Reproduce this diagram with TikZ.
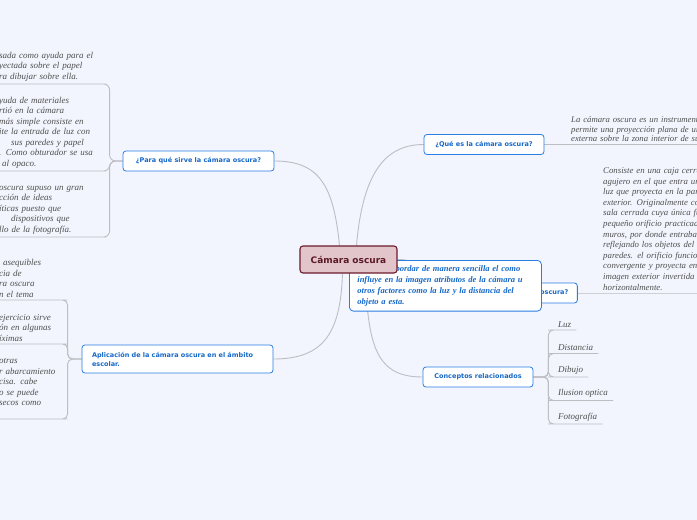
\documentclass[tikz,border=0pt]{standalone}
\usepackage{fontspec}
\newfontfamily\mapsans{DejaVu Sans}
\newfontfamily\mapserif{Liberation Serif}
\definecolor{mapbg}{HTML}{F2F5FD}
\definecolor{topicblue}{HTML}{2A7DE1}
\definecolor{topictext}{HTML}{1668C8}
\definecolor{rootfill}{HTML}{E2C5CB}
\definecolor{rootdraw}{HTML}{6B1C2C}
\definecolor{linkgray}{HTML}{BDBDC2}
\definecolor{leafgray}{HTML}{505050}
\pgfdeclarelayer{links}
\pgfsetlayers{links,main}
\tikzset{
  central/.style={draw=rootdraw, fill=rootfill, line width=1.1pt, rounded corners=3pt,
    minimum width=97pt, minimum height=27pt, text=rootdraw!85!black,
    font=\mapsans\bfseries\fontsize{9}{11}\selectfont},
  topic/.style={draw=topicblue, fill=white, line width=0.8pt, rounded corners=3pt,
    minimum height=20pt, inner xsep=9pt, text=topictext,
    font=\mapsans\bfseries\fontsize{6.5}{9}\selectfont},
  memo/.style={draw=topicblue, fill=white, line width=0.8pt, rounded corners=4pt,
    text width=176pt, align=left, inner xsep=8pt, inner ysep=5pt, anchor=north west,
    text=topictext, font=\mapserif\bfseries\itshape\fontsize{8.5}{11}\selectfont},
  leaf/.style={inner xsep=0pt, inner ysep=2.5pt, align=left, anchor=south west,
    text=leafgray, font=\mapserif\itshape\fontsize{9}{10.5}\selectfont},
  link/.style={draw=linkgray, line width=0.9pt}
}
\begin{document}
\begin{tikzpicture}[x=1pt, y=-1pt]
  \begin{pgfonlayer}{links}
    \fill[mapbg] (0,0) rectangle (697,520);
  \end{pgfonlayer}
  \useasboundingbox (0,0) rectangle (697,520);

  % topics
  \node[topic, minimum width=120pt] (what) at (484,144.5) {¿Qué es la cámara oscura?};
  \node[topic, minimum width=140pt] (how) at (505,293) {¿Cómo funciona la cámara oscura?};
  \node[topic, minimum width=110pt] (concepts) at (478,377) {Conceptos relacionados};
  \node[topic, minimum width=151pt] (why) at (198.5,161) {¿Para qué sirve la cámara oscura?};
  \node[topic, text width=171pt, align=left, minimum height=28pt, inner xsep=10pt] (school) at (177.5,359)
    {Aplicación de la cámara oscura en el ámbito\\escolar.};

  % notes on the right
  \node[leaf, text width=200pt, font=\mapserif\itshape\fontsize{8.7}{9.7}\selectfont] (whatnote) at (571,144.5)
    {La cámara oscura es un instrumento\\permite una proyección plana de una\\externa sobre la zona interior de su};
  \node[leaf, text width=200pt, font=\mapserif\itshape\fontsize{8.8}{10.6}\selectfont] (hownote) at (603,293)
    {Consiste en una caja cerrada\\agujero en el que entra un\\luz que proyecta en la pared\\exterior. Originalmente con\\sala cerrada cuya única fuente\\pequeño orificio practicado\\muros, por donde entraba\\reflejando los objetos del\\paredes. el orificio funcionaba\\convergente y proyecta en\\imagen exterior invertida\\horizontalmente.};

  % related concepts
  \node[leaf, inner xsep=5pt] (luz) at (553,330) {Luz};
  \node[leaf, inner xsep=5pt] (distancia) at (553,353.5) {Distancia};
  \node[leaf, inner xsep=5pt] (dibujo) at (553,377) {Dibujo};
  \node[leaf, inner xsep=5pt] (ilusion) at (553,400.5) {Ilusion optica};
  \node[leaf, inner xsep=5pt] (foto) at (553,424) {Fotografía};

  % uses, cut by the left edge
  \node[leaf, text width=101pt] (use1) at (-1,84)
    {sada como ayuda para el\\yectada sobre el papel\\ra dibujar sobre ella.};
  \node[leaf, text width=101pt] (use2) at (-1,171)
    {yuda de materiales\\rtió en la cámara\\más simple consiste en\\ite la entrada de luz con\\\hspace*{12pt}sus paredes y papel\\. Como obturador se usa\\\hspace*{3pt}al opaco.};
  \node[leaf, text width=101pt] (use3) at (-1,237)
    {oscura supuso un gran\\cción de ideas\\íticas puesto que\\\hspace*{12pt}dispositivos que\\llo de la fotografía.};

  % school, cut by the left edge
  \node[leaf, text width=63pt] (school1) at (-1,300)
    {\hspace*{4pt}asequibles\\cia de\\ra oscura\\n el tema};
  \node[leaf, text width=63pt] (school2) at (-1,344)
    {ejercicio sirve\\ón en algunas\\íximas};
  \node[leaf, text width=63pt] (school3) at (-1,419)
    {otras\\r abarcamiento\\cisa. cabe\\o se puede\\secos como\\\mbox{}};

  % floating note, then the root on top
  \node[memo] (goal) at (349,260)
    {Pretende abordar de manera sencilla el como\\influye en la imagen atributos de la cámara u\\otros factores como la luz y la distancia del\\objeto a esta.};
  \node[central] (root) at (348.5,259.5) {Cámara oscura};

  \begin{pgfonlayer}{links}
    \draw[link] ([xshift=8pt]root.north) .. controls +(6,-70) and +(-40,0) .. (what.west);
    \draw[link] ([xshift=-9pt]root.north) .. controls +(-6,-60) and +(45,0) .. (why.east);
    \draw[link] (root.east) .. controls +(40,0) and +(-40,0) .. (how.west);
    \draw[link] ([xshift=17pt]root.south) .. controls +(2,75) and +(-45,0) .. (concepts.west);
    \draw[link] ([xshift=-6pt]root.south) .. controls +(-2,60) and +(50,0) .. (school.east);
    \draw[link] (what.east) -- (whatnote.south west) -- (whatnote.south east);
    \draw[link] (how.east) -- (hownote.south west) -- (hownote.south east);
    \foreach \leafname in {luz,distancia,dibujo,ilusion,foto}
      \draw[link, rounded corners=5pt] (concepts.east) -- ++(15,0) |- (\leafname.south west) -- (\leafname.south east);
    \foreach \leafname in {use1,use2,use3}
      \draw[link, rounded corners=6pt] (why.west) -- ++(-13,0) |- (\leafname.south east) -- (\leafname.south west);
    \foreach \leafname in {school1,school2,school3}
      \draw[link, rounded corners=5pt] (school.west) -- ++(-14,0) |- (\leafname.south east) -- (\leafname.south west);
  \end{pgfonlayer}
\end{tikzpicture}
\end{document}
